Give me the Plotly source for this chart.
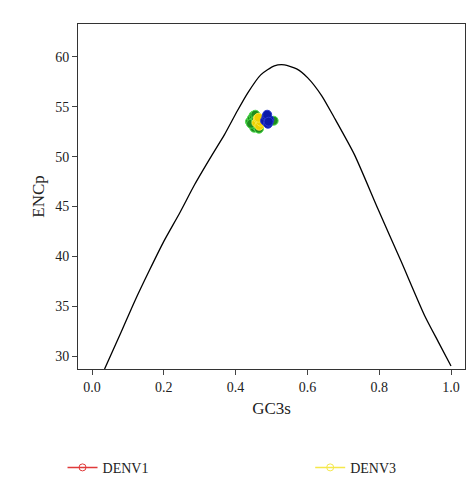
import plotly.graph_objects as go

# expected ENC curve
curve_x = [0.035, 0.08, 0.119, 0.16, 0.20, 0.245, 0.286, 0.33, 0.369, 0.405, 0.434, 0.47, 0.508, 0.536, 0.57,
           0.601, 0.64, 0.675, 0.731, 0.796, 0.861, 0.926, 0.965, 1.0]
curve_y = [28.7, 32.3, 35.5, 38.6, 41.5, 44.4, 47.2, 49.9, 52.2, 54.6, 56.4, 58.2, 59.1, 59.2, 58.8,
           57.9, 56.1, 53.9, 50.2, 44.8, 39.5, 34.1, 31.4, 29.0]

# genes per serotype (GC3s, ENCp)
denv1_x = [0.452, 0.458]
denv1_y = [53.6, 53.4]
denv2_x = [0.440, 0.445, 0.450, 0.455, 0.448, 0.452, 0.460, 0.465, 0.443, 0.457, 0.506]
denv2_y = [53.5, 53.8, 54.1, 54.2, 53.2, 52.9, 53.0, 52.8, 53.3, 53.7, 53.6]
denv3_x = [0.458, 0.462, 0.466, 0.470, 0.464]
denv3_y = [53.4, 53.8, 53.1, 53.5, 53.9]
denv4_x = [0.482, 0.486, 0.490, 0.494, 0.488, 0.492]
denv4_y = [53.6, 54.0, 53.3, 53.7, 54.2, 53.5]

fig = go.Figure()
fig.add_trace(go.Scatter(x=curve_x, y=curve_y, mode="lines", line=dict(color="black", width=1.3, shape="spline", smoothing=0.6), showlegend=False))

series = [
    ("DENV1", denv1_x, denv1_y, "#c81e1e", "#e03a3a", "legend"),
    ("DENV2", denv2_x, denv2_y, "#1f8c1f", "#4fdc4f", "legend"),
    ("DENV3", denv3_x, denv3_y, "#f0d000", "#f5e84a", "legend2"),
    ("DENV4", denv4_x, denv4_y, "#0a1aa8", "#2a3ad0", "legend2"),
]
for name, xs, ys, fill, edge, lg in series:
    fig.add_trace(go.Scatter(x=xs, y=ys, mode="markers", showlegend=False,
                             marker=dict(size=9, color=fill, line=dict(color=edge, width=1))))

# legend entries: two columns
for name, xs, ys, fill, edge, lg in series:
    fig.add_trace(go.Scatter(x=[None], y=[None], mode="lines+markers", name=name, legend=lg,
                             line=dict(color=edge, width=1.5),
                             marker=dict(symbol="circle-open", size=7, color=edge)))

leg = dict(orientation="v", yanchor="top", xanchor="left", bgcolor="rgba(0,0,0,0)",
           font=dict(size=14), tracegroupgap=0)
fig.update_layout(
    width=474, height=479, plot_bgcolor="white", paper_bgcolor="white",
    font=dict(family="Liberation Serif", size=14, color="#222"),
    margin=dict(l=70, r=17, t=16, b=118, autoexpand=False),
    legend=dict(leg, x=-0.04, y=-0.24),
    legend2=dict(leg, x=0.6, y=-0.24),
)
fig.update_xaxes(range=[-0.039, 1.039], tickvals=[0, 0.2, 0.4, 0.6, 0.8, 1.0],
                 ticktext=["0.0", "0.2", "0.4", "0.6", "0.8", "1.0"],
                 showgrid=False, zeroline=False, showline=True, mirror=True, linecolor="#333",
                 ticks="outside", ticklen=5, title=dict(text="GC3s", standoff=8))
fig.update_yaxes(range=[28.7, 63.3], tickvals=[30, 35, 40, 45, 50, 55, 60],
                 showgrid=False, zeroline=False, showline=True, mirror=True, linecolor="#333",
                 ticks="outside", ticklen=5, title=dict(text="ENCp", standoff=6))

fig.write_html("out.html")
